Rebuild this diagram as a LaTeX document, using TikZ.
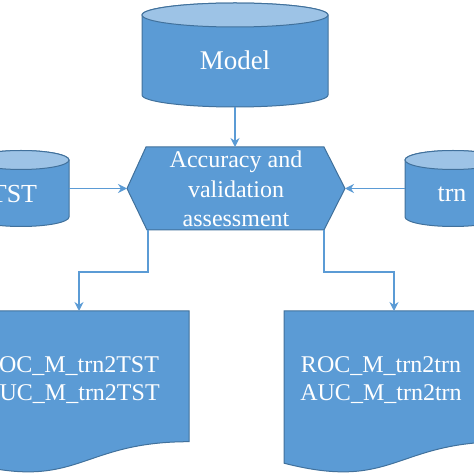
\documentclass[tikz,border=0pt]{standalone}
\usepackage{fontspec}
\setmainfont{Liberation Serif}
\newfontfamily\diagfont{Liberation Serif}
\usepackage{xcolor}
\usetikzlibrary{arrows.meta,positioning,shapes}

\definecolor{officeblue}{HTML}{5B9BD5}
\definecolor{topblue}{HTML}{9DC3E6}
\definecolor{borderblue}{HTML}{41719C}

\begin{document}
\begin{tikzpicture}[
    x=1pt, y=1pt,
    box/.style={inner sep=0pt, outer sep=0pt},
    shapefill/.style={fill=officeblue, draw=borderblue, line width=1pt},
    lbl/.style={text=white, align=center, inner sep=0pt, font=\diagfont\fontsize{24}{29.5}\selectfont},
    link/.style={draw=officeblue, line width=1.3pt, -{Stealth[length=9pt, width=9pt, inset=3pt]}}
]
    \useasboundingbox (0,0) rectangle (474,474);
    \clip (0,0) rectangle (474,474);

    % shape boxes
    \node[box, minimum width=186pt, minimum height=104pt] (model) at (235,419) {};
    \node[box, minimum width=96pt, minimum height=76pt] (tst) at (21,285.5) {};
    \node[box, minimum width=96pt, minimum height=76pt] (trn) at (453,285.5) {};
    \node[box, minimum width=218pt, minimum height=83pt] (acc) at (236,285.5) {};
    \node[box, minimum width=220pt, minimum height=163pt] (docL) at (79,81.5) {};
    \node[box, minimum width=220pt, minimum height=163pt] (docR) at (394,81.5) {};

    % cylinders
    \draw[shapefill] ([yshift=-12pt]model.north west) -- ([yshift=12pt]model.south west)
        arc[start angle=180, end angle=360, x radius=93pt, y radius=12pt]
        -- ([yshift=-12pt]model.north east)
        arc[start angle=0, end angle=180, x radius=93pt, y radius=12pt] -- cycle;
    \draw[shapefill, fill=topblue] ([yshift=-12pt]model.north) ellipse[x radius=93pt, y radius=12pt];
    \foreach \n in {tst,trn} {
        \draw[shapefill] ([yshift=-9.5pt]\n.north west) -- ([yshift=9.5pt]\n.south west)
            arc[start angle=180, end angle=360, x radius=48pt, y radius=9.5pt]
            -- ([yshift=-9.5pt]\n.north east)
            arc[start angle=0, end angle=180, x radius=48pt, y radius=9.5pt] -- cycle;
        \draw[shapefill, fill=topblue] ([yshift=-9.5pt]\n.north) ellipse[x radius=48pt, y radius=9.5pt];
    }

    % hexagon
    \draw[shapefill] (acc.west) -- ([xshift=19pt]acc.north west) -- ([xshift=-21pt]acc.north east)
        -- (acc.east) -- ([xshift=-21pt]acc.south east) -- ([xshift=20pt]acc.south west) -- cycle;

    % documents
    \foreach \n in {docL,docR} {
        \draw[shapefill] (\n.north west) -- (\n.north east) -- ([yshift=32.3pt]\n.south east)
            .. controls ([yshift=32.3pt]\n.south) and ([yshift=-17.4pt]\n.south) .. ([yshift=10.8pt]\n.south west)
            -- cycle;
    }

    % labels
    \node[lbl, font=\diagfont\fontsize{27}{32}\selectfont] (modeltxt) at (235,414) {Model};
    \node[lbl, font=\diagfont\fontsize{26}{31}\selectfont] (tsttxt) at (14,280) {TST};
    \node[lbl, font=\diagfont\fontsize{26}{31}\selectfont] (trntxt) at (452,280) {trn};
    \node[lbl] (acctxt) at (236,285) {Accuracy and\\validation\\assessment};
    \node[lbl, font=\diagfont\fontsize{24}{28.3}\selectfont] (docLtxt) at (71,94) {ROC\_M\_trn2TST\\AUC\_M\_trn2TST};
    \node[lbl, font=\diagfont\fontsize{24}{28.3}\selectfont] (docRtxt) at (381,94) {ROC\_M\_trn2trn\\AUC\_M\_trn2trn};

    % connectors
    \draw[link] (model.south) -- (model.south |- acc.north);
    \draw[link] (tst.east) -- (acc.west);
    \draw[link] (trn.west) -- (acc.east);
    \draw[link] ([xshift=21pt]acc.south west) -- ++(0,-42pt) -| (docL.north);
    \draw[link] ([xshift=-21pt]acc.south east) -- ++(0,-42pt) -| (docR.north);
\end{tikzpicture}
\end{document}
